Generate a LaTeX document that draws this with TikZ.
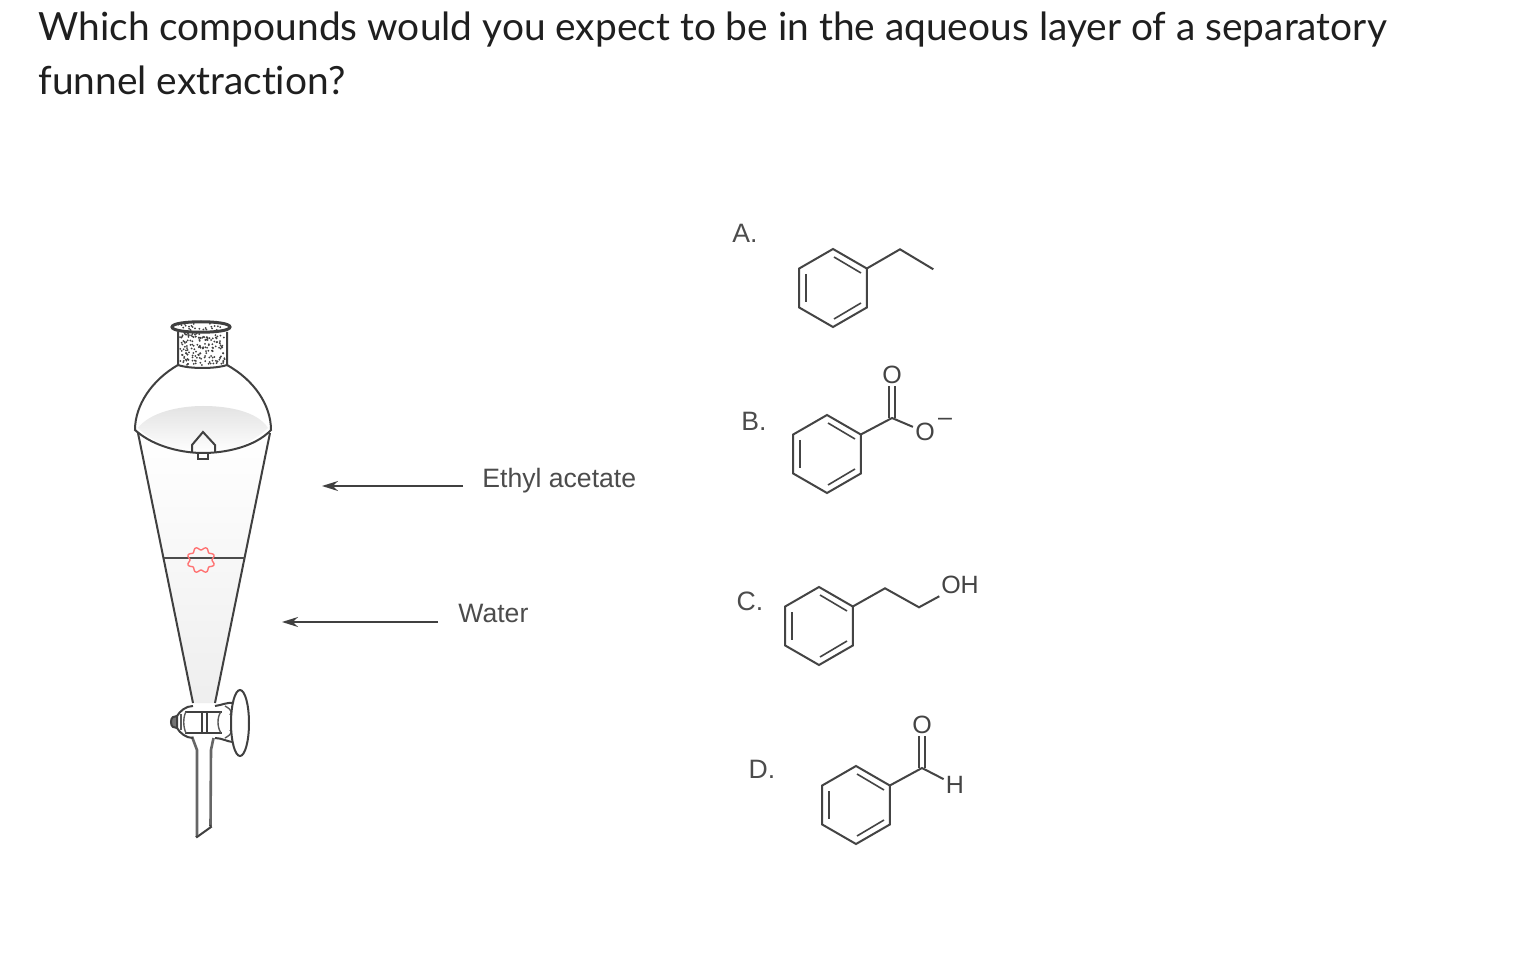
\documentclass[tikz,border=0pt]{standalone}
\usepackage{fontspec}
\setmainfont{Lato}[Ligatures=NoCommon]
\newfontfamily\labelfont{Liberation Sans}
\usetikzlibrary{arrows.meta, calc}
\definecolor{inkgray}{HTML}{444444}
\tikzset{
    bond/.style={draw=inkgray, line width=1pt, line join=miter},
    innerbond/.style={draw=inkgray, line width=0.8pt},
    glass/.style={draw=black!75, line width=1pt},
    thinglass/.style={draw=black!65, line width=0.7pt},
    arrow/.style={-{Stealth[length=8pt, width=5pt]}, draw=black!75, line width=0.9pt},
    atom/.style={font=\labelfont\fontsize{12.5}{12.5}\selectfont, text=inkgray, inner sep=1pt},
    tag/.style={font=\labelfont\fontsize{13.3}{13.3}\selectfont, text=black!70, inner sep=0pt},
    question/.style={font=\fontsize{19.43}{27}\selectfont, text=black!88, align=left, inner sep=0pt, anchor=base west},
    benzene/.pic={
        \coordinate (-n) at (0,-39);
        \coordinate (-ne) at (33.8,-19.5);
        \coordinate (-se) at (33.8,19.5);
        \coordinate (-s) at (0,39);
        \coordinate (-sw) at (-33.8,19.5);
        \coordinate (-nw) at (-33.8,-19.5);
        \draw[bond] (-n) -- (-ne) -- (-se) -- (-s) -- (-sw) -- (-nw) -- cycle;
        \draw[innerbond] (1,-31) -- (28,-15);
        \draw[innerbond] (1,31) -- (28,15);
        \draw[innerbond] (-27,-14) -- (-27,14);
    }
}
\begin{document}
\begin{tikzpicture}[x=0.5pt, y=-0.5pt]
    \useasboundingbox[fill=white] (0,0) rectangle (1526,978);
    \node (prompt) [question] at (38,95) {Which compounds would you expect to be in the aqueous layer of a separatory\\funnel extraction?};

    % funnel
    \shade[top color=gray!22, bottom color=white] (138,428) .. controls (150,412) and (180,406) .. (203,406) .. controls (230,406) and (258,412) .. (268,428) .. controls (250,445) and (225,453) .. (203,453) .. controls (185,453) and (155,445) .. (138,428) -- cycle;
    \shade[top color=white, bottom color=gray!13] (138,433) .. controls (155,448) and (185,453) .. (203,453) .. controls (225,453) and (255,447) .. (270,433) -- (215,703) -- (193,703) -- cycle;
    \draw[glass] (178,365) .. controls (152,380) and (135,405) .. (135,430) .. controls (155,448) and (185,453) .. (203,453) .. controls (225,453) and (255,447) .. (271,430) .. controls (271,405) and (254,380) .. (227,365);
    \draw[glass] (138,433) -- (193,703);
    \draw[glass] (270,433) -- (215,703);
    \draw[glass, line width=1.5pt] (172,327) .. controls (172,320) and (230,320) .. (230,327) .. controls (230,334) and (172,334) .. (172,327) -- cycle;
    \draw[glass] (178,332) -- (178,365) .. controls (190,369) and (215,369) .. (227,365) -- (227,332);
    \pgfmathsetseed{7}
    \foreach \i in {1,...,170} {
        \fill[black!75] ({180+45*rnd},{333+32*rnd}) circle (1);
    }
    \foreach \i in {1,...,25} {
        \fill[black!75] ({178+46*rnd},{323+7*rnd}) circle (1);
    }
    \draw[glass] (198,453) -- (198,459) -- (208,459) -- (208,453);
    \draw[glass] (192,452) -- (192,445) -- (203,432) -- (215,445) -- (215,452);
    \draw[glass, black!70] (164,558) -- (245,558);
    \draw[red!55, line width=0.7pt] plot[domain=0:360, samples=81, smooth] ({201+(12.5-1.5*cos(8*\x))*cos(\x)},{560+(11.5-1.5*cos(8*\x))*sin(\x)});

    % stopcock
    \draw[draw=black!60, line width=1.3pt] (197,835.7) -- (197,750) -- (192,736.7);
    \draw[draw=black!60, line width=1.3pt] (210.5,826) -- (211,750) -- (213.5,738);
    \draw[glass] (196,835.7) -- (197,837) -- (211,827) -- (210,825);
    \draw[glass] (185,711.7) -- (222,711.7);
    \draw[glass] (185,733) -- (222,733);
    \draw[glass] (201.7,711.7) -- (201.7,733);
    \draw[glass] (206.7,711.7) -- (206.7,733);
    \draw[glass, fill=black!55] (171,722) .. controls (171,717) and (174,716) .. (177,716) -- (177,728) .. controls (174,728) and (171,727) .. (171,722) -- cycle;
    \draw[glass] (177,716) .. controls (180,711) and (186,706) .. (193,706);
    \draw[glass] (177,728) .. controls (180,733) and (186,738) .. (193,738);
    \draw[thinglass] (181,714) -- (181,730);
    \draw[thinglass] (186,711.7) .. controls (183,717) and (183,727) .. (186,733);
    \draw[glass] (215,706) .. controls (222,705) and (228,702) .. (233,703);
    \draw[glass] (215,738) .. controls (222,738) and (228,742) .. (233,742);
    \draw[thinglass] (221,711.7) .. controls (217,717) and (217,727) .. (221,733);
    \draw[thinglass] (225,706) .. controls (232,710) and (232,712) .. (230,715);
    \draw[thinglass] (225,738) .. controls (232,734) and (232,732) .. (230,730);
    \draw[glass, fill=white] (240,723) ellipse (9 and 33);

    % layer labels
    \node (ethyl) [tag, anchor=west] at (482,481) {Ethyl acetate};
    \node (water) [tag, anchor=west] at (458,613) {Water};
    \coordinate (ethylstart) at (463,486);
    \coordinate (ethyltip) at (322,486);
    \coordinate (waterstart) at (438,622);
    \coordinate (watertip) at (282,622);
    \draw[arrow] (ethylstart) -- (ethyltip);
    \draw[arrow] (waterstart) -- (watertip);

    % A
    \node (labela) [tag] at (745,233) {A.};
    \pic (ringa) at (833,288) {benzene};
    \coordinate (etha) at (900,249.3);
    \coordinate (ethb) at (933.3,269.3);
    \draw[bond] (ringa-ne) -- (etha) -- (ethb);

    % B
    \node (labelb) [tag] at (754,421) {B.};
    \pic (ringb) at (827,454) {benzene};
    \coordinate (carbb) at (892,418);
    \node (oxb) [atom] at (892,375) {O};
    \node (oxminus) [atom] at (925,432) {O};
    \node (minus) [atom] at (945,422) {–};
    \draw[bond] (ringb-ne) -- (carbb) -- (oxminus);
    \draw[innerbond] ([xshift=-1.5pt]carbb) -- ([xshift=-1.5pt]oxb.south);
    \draw[innerbond] ([xshift=1.5pt]carbb) -- ([xshift=1.5pt]oxb.south);

    % C
    \node (labelc) [tag] at (750,601) {C.};
    \pic (ringc) at (819,626) {benzene};
    \coordinate (chaina) at (885,588.3);
    \coordinate (chainb) at (919,607.3);
    \node (hydroxyl) [atom] at (960,585) {OH};
    \draw[bond] (ringc-ne) -- (chaina) -- (chainb) -- (hydroxyl);

    % D
    \node (labeld) [tag] at (762,769) {D.};
    \pic (ringd) at (856,805) {benzene};
    \coordinate (carbd) at (922,768);
    \node (oxd) [atom] at (922,725) {O};
    \node (hyd) [atom] at (955,785) {H};
    \draw[bond] (ringd-ne) -- (carbd) -- (hyd);
    \draw[innerbond] ([xshift=-1.5pt]carbd) -- ([xshift=-1.5pt]oxd.south);
    \draw[innerbond] ([xshift=1.5pt]carbd) -- ([xshift=1.5pt]oxd.south);
\end{tikzpicture}
\end{document}
